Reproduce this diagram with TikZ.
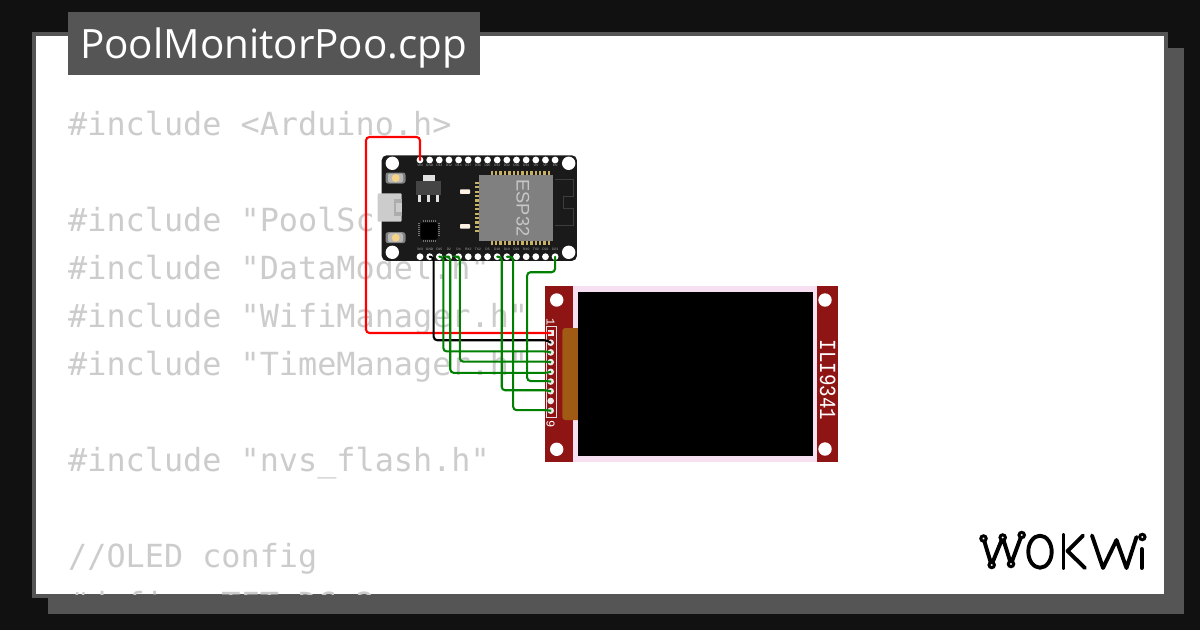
\documentclass[tikz,border=0pt]{standalone}
\usepackage{fontspec}
\setmainfont{Liberation Sans}
\newfontfamily\codefont{DejaVu Sans Mono}
\newfontfamily\titlefont{Open Sans}
\newfontfamily\monofont{Liberation Mono}
\definecolor{bgdark}{HTML}{111111}
\definecolor{shadowgrey}{HTML}{555555}
\definecolor{codegrey}{HTML}{CCCCCC}
\definecolor{boardblack}{HTML}{1A1A1A}
\definecolor{tftred}{HTML}{8F1515}
\definecolor{tftpink}{HTML}{F6E0F2}
\definecolor{tftorange}{HTML}{A05A14}
\definecolor{gold}{HTML}{C9B264}
\definecolor{wiregreen}{HTML}{008000}
\definecolor{btnorange}{HTML}{F5D285}
\tikzset{
  codeline/.style={anchor=base west,inner sep=0pt,text=codegrey,font=\codefont\fontsize{31.83}{32}\selectfont},
  espin/.style={circle,fill=white,draw=none,inner sep=0pt,minimum size=6.8pt},
  tftpin/.style={circle,fill=white!92!black,draw=none,inner sep=0pt,minimum size=6.6pt},
  pinlabel/.style={inner sep=0pt,text=white!68!black,font=\fontsize{3.3}{4}\selectfont},
  hole/.style={circle,fill=white,draw=none,inner sep=0pt,minimum size=13.4pt},
  wire/.style={line width=2.1pt,rounded corners=3.5pt,line cap=round},
  logo/.style={line width=3.9pt,line cap=round,line join=round,draw=black},
  ring/.style={circle,draw=black,fill=white,line width=3pt,inner sep=0pt,minimum size=5.4pt},
}
\begin{document}
\begin{tikzpicture}[x=1pt,y=-1pt]
\useasboundingbox (0,0) rectangle (1200,630);
\fill[bgdark] (0,0) rectangle (1200,630);
\fill[shadowgrey] (48,48) rectangle (1184,614);
\fill[shadowgrey] (32,32) rectangle (1168,598);
\fill[white] (36,36) rectangle (1164,594);
\fill[shadowgrey] (68,12) rectangle (480,75);
\node[anchor=base west,inner sep=0pt,text=white,font=\titlefont\fontsize{40.4}{42}\selectfont] (title) at (80,58) {PoolMonitorPoo.cpp};
% code
\begin{scope}
\clip (36,36) rectangle (1164,594);
\node[codeline] (c1) at (68,135) {\#include <Arduino.h>};
\node[codeline] (c2) at (68,231) {\#include "PoolSc};
\node[codeline] (c3) at (68,279) {\#include "DataModel.h"};
\node[codeline] (c4) at (68,327) {\#include "WifiManager.h"};
\node[codeline] (c5) at (68,375) {\#include "TimeManager.h"};
\node[codeline] (c6) at (68,471) {\#include "nvs\_flash.h"};
\node[codeline] (c7) at (68,567) {//OLED config};
\node[codeline] (c8) at (68,615) {\#define TFT\_DC 2};
\end{scope}
% ESP32 board
\fill[boardblack,rounded corners=5pt] (381.7,155.3) rectangle (576.9,260.9);
\foreach \p/\q in {392.3/163.3,568.7/163.3,392.3/252.3,568.7/252.3}
  \node[hole] at (\p,\q) {};
% usb
\fill[white!80!black,rounded corners=1pt] (377.7,193.3) rectangle (401.7,221.7);
\fill[white!68!black] (394,199) rectangle (401.7,216);
\fill[white!80!black] (396,203) rectangle (401.7,212);
% buttons
\foreach \q in {178,237.7}{
  \fill[white!50!black,rounded corners=2.5pt] (385.5,\q-5.5) rectangle (405.5,\q+5.5);
  \fill[white!72!black,rounded corners=2pt] (388,\q-4.5) rectangle (403,\q+4.5);
  \fill[btnorange] (395.7,\q) circle (4);
}
% regulator
\fill[white!88!black] (423.3,174.5) rectangle (434.7,182);
\fill[white!27!black] (416,181) rectangle (440.7,195);
\foreach \p in {419.3,428.7,437.7}
  \fill[white!88!black] (\p-1.5,195) rectangle (\p+1.5,201.6);
% smd
\foreach \q in {189.3,224}
  \fill[white!90!orange,rounded corners=0.8pt] (460,\q) rectangle (470,\q+4.6);
% small chip
\fill[black,rounded corners=1.5pt] (420.5,222.5) rectangle (437.5,239.5);
\foreach \k in {0,...,6}{
  \fill[white!45!black] (423+\k*2,220) rectangle (424+\k*2,222);
  \fill[white!45!black] (423+\k*2,240) rectangle (424+\k*2,242);
  \fill[white!45!black] (418.3,223+\k*2) rectangle (420.3,224+\k*2);
  \fill[white!45!black] (437.7,223+\k*2) rectangle (439.7,224+\k*2);
}
% ESP module
\foreach \k in {0,...,13}{
  \fill[gold] (490.5+\k*4.4,171) rectangle (493+\k*4.4,175.5);
  \fill[gold] (490.5+\k*4.4,240.5) rectangle (493+\k*4.4,244.7);
}
\foreach \k in {0,...,11}
  \fill[gold] (475,181.7+\k*4.4) rectangle (479.5,184+\k*4.4);
\fill[white!50!black] (479.3,175) rectangle (552.7,240.7);
\node[rotate=-90,inner sep=0pt,text=white!78!black,font=\fontsize{18.2}{19}\selectfont] (esplabel) at (523,208) {ESP32};
% antenna
\draw[white!24!black,line width=0.8pt] (555,179.3) -- (573.3,179.3) -- (573.3,196.7) -- (563.3,196.7) -- (563.3,208.3) -- (573.3,208.3) -- (573.3,225) -- (555,225);
% header pins
\foreach \i/\lab in {1/VIN,2/GND,3/D13,4/D12,5/D14,6/D27,7/D26,8/D25,9/D33,10/D32,11/D35,12/D34,13/VN,14/VP,15/EN}{
  \node[espin] (u\i) at ({420+(\i-1)*9.65},160) {};
  \node[pinlabel] (ul\i) at ({420+(\i-1)*9.65},165.3) {\lab};
}
\foreach \i/\lab in {1/3V3,2/GND,3/D15,4/D2,5/D4,6/RX2,7/TX2,8/D5,9/D18,10/D19,11/D21,12/RX0,13/TX0,14/D22,15/D23}{
  \node[espin] (d\i) at ({420+(\i-1)*9.65},256.7) {};
  \node[pinlabel] (dl\i) at ({420+(\i-1)*9.65},249.2) {\lab};
}
% TFT
\fill[tftpink] (572,286) rectangle (818,461.7);
\fill[tftred] (545,286) rectangle (572.5,461.7);
\fill[tftred] (817.3,286) rectangle (838.3,461.7);
\fill[tftorange,rounded corners=3pt] (562.3,328) rectangle (582,420);
\fill[black] (578.3,291.7) rectangle (813.3,455.7);
\node[hole] (h1) at (556.7,300) {};
\node[hole] (h2) at (556.7,449.3) {};
\node[hole] (h3) at (825,300) {};
\node[hole] (h4) at (825,449) {};
\node[rotate=-90,inner sep=0pt,text=white,font=\monofont\fontsize{19.2}{20}\selectfont] (ili) at (827.8,380) {\scalebox{1}[1.2]{ILI9341}};
\node[rotate=-90,inner sep=0pt,text=white,font=\monofont\fontsize{12}{12}\selectfont] (n1) at (550.5,322) {1};
\node[rotate=-90,inner sep=0pt,text=white,font=\monofont\fontsize{12}{12}\selectfont] (n9) at (550.5,424) {9};
\draw[white!78!tftpink!90!black,line width=1pt] (546,326.3) rectangle (556.7,417.5);
\fill[white!92!black] (547.6,329.8) rectangle (553.8,336);
\coordinate (t1) at (550.7,333);
\foreach \i in {2,...,9}
  \node[tftpin] (t\i) at (550.7,{333+(\i-1)*9.71}) {};
% wires
\draw[wire,red] (u1.center) -- ++(0,-23) -- ++(-54,0) |- (t1);
\draw[wire,black] (d2.center) -- ++(4,0) |- ([shift={(-3,-2.5)}]t2.center) -- (t2.center);
\draw[wire,wiregreen] (d3.center) -- ++(4,0) |- ([shift={(-3,-1)}]t3.center) -- (t3.center);
\draw[wire,wiregreen] (d4.center) -- ++(1.3,0) |- ([shift={(-3,1)}]t5.center) -- (t5.center);
\draw[wire,wiregreen] (d5.center) -- ++(1.2,0) |- ([shift={(-3,-0.5)}]t4.center) -- (t4.center);
\draw[wire,wiregreen] (d9.center) -- ++(4.5,0) |- ([shift={(-3,-1)}]t7.center) -- (t7.center);
\draw[wire,wiregreen] (d10.center) -- ++(6.3,0) |- ([shift={(-3,-0.5)}]t9.center) -- (t9.center);
\draw[wire,wiregreen] (d15.center) -- ++(0,15.5) -- ++(-28,0) |- ([shift={(-3,-0.5)}]t6.center) -- (t6.center);
% logo
\draw[logo] (983.5,538.5) -- (991.5,565) -- (1002.7,537.5) -- (1011,564) -- (1021.7,535);
\node[ring] (r1) at (983.5,538.5) {};
\node[ring] (r2) at (1002.7,537.5) {};
\node[ring] (r3) at (1021.7,535) {};
\node[ring] (r4) at (991.7,565) {};
\node[ring] (r5) at (1011,564) {};
\draw[logo] (1040,551.7) ellipse (11.7 and 16);
\draw[logo] (1063.5,535) -- (1063.5,568);
\draw[logo] (1083,535.5) -- (1067.5,551) -- (1085,568);
\draw[logo] (1092,535.5) -- (1103,568) -- (1116.5,540) -- (1126.5,568) -- (1136.5,537);
\draw[logo] (1141.7,549) -- (1141.7,568);
\node[ring] (r6) at (1142.3,537) {};
\end{tikzpicture}
\end{document}
